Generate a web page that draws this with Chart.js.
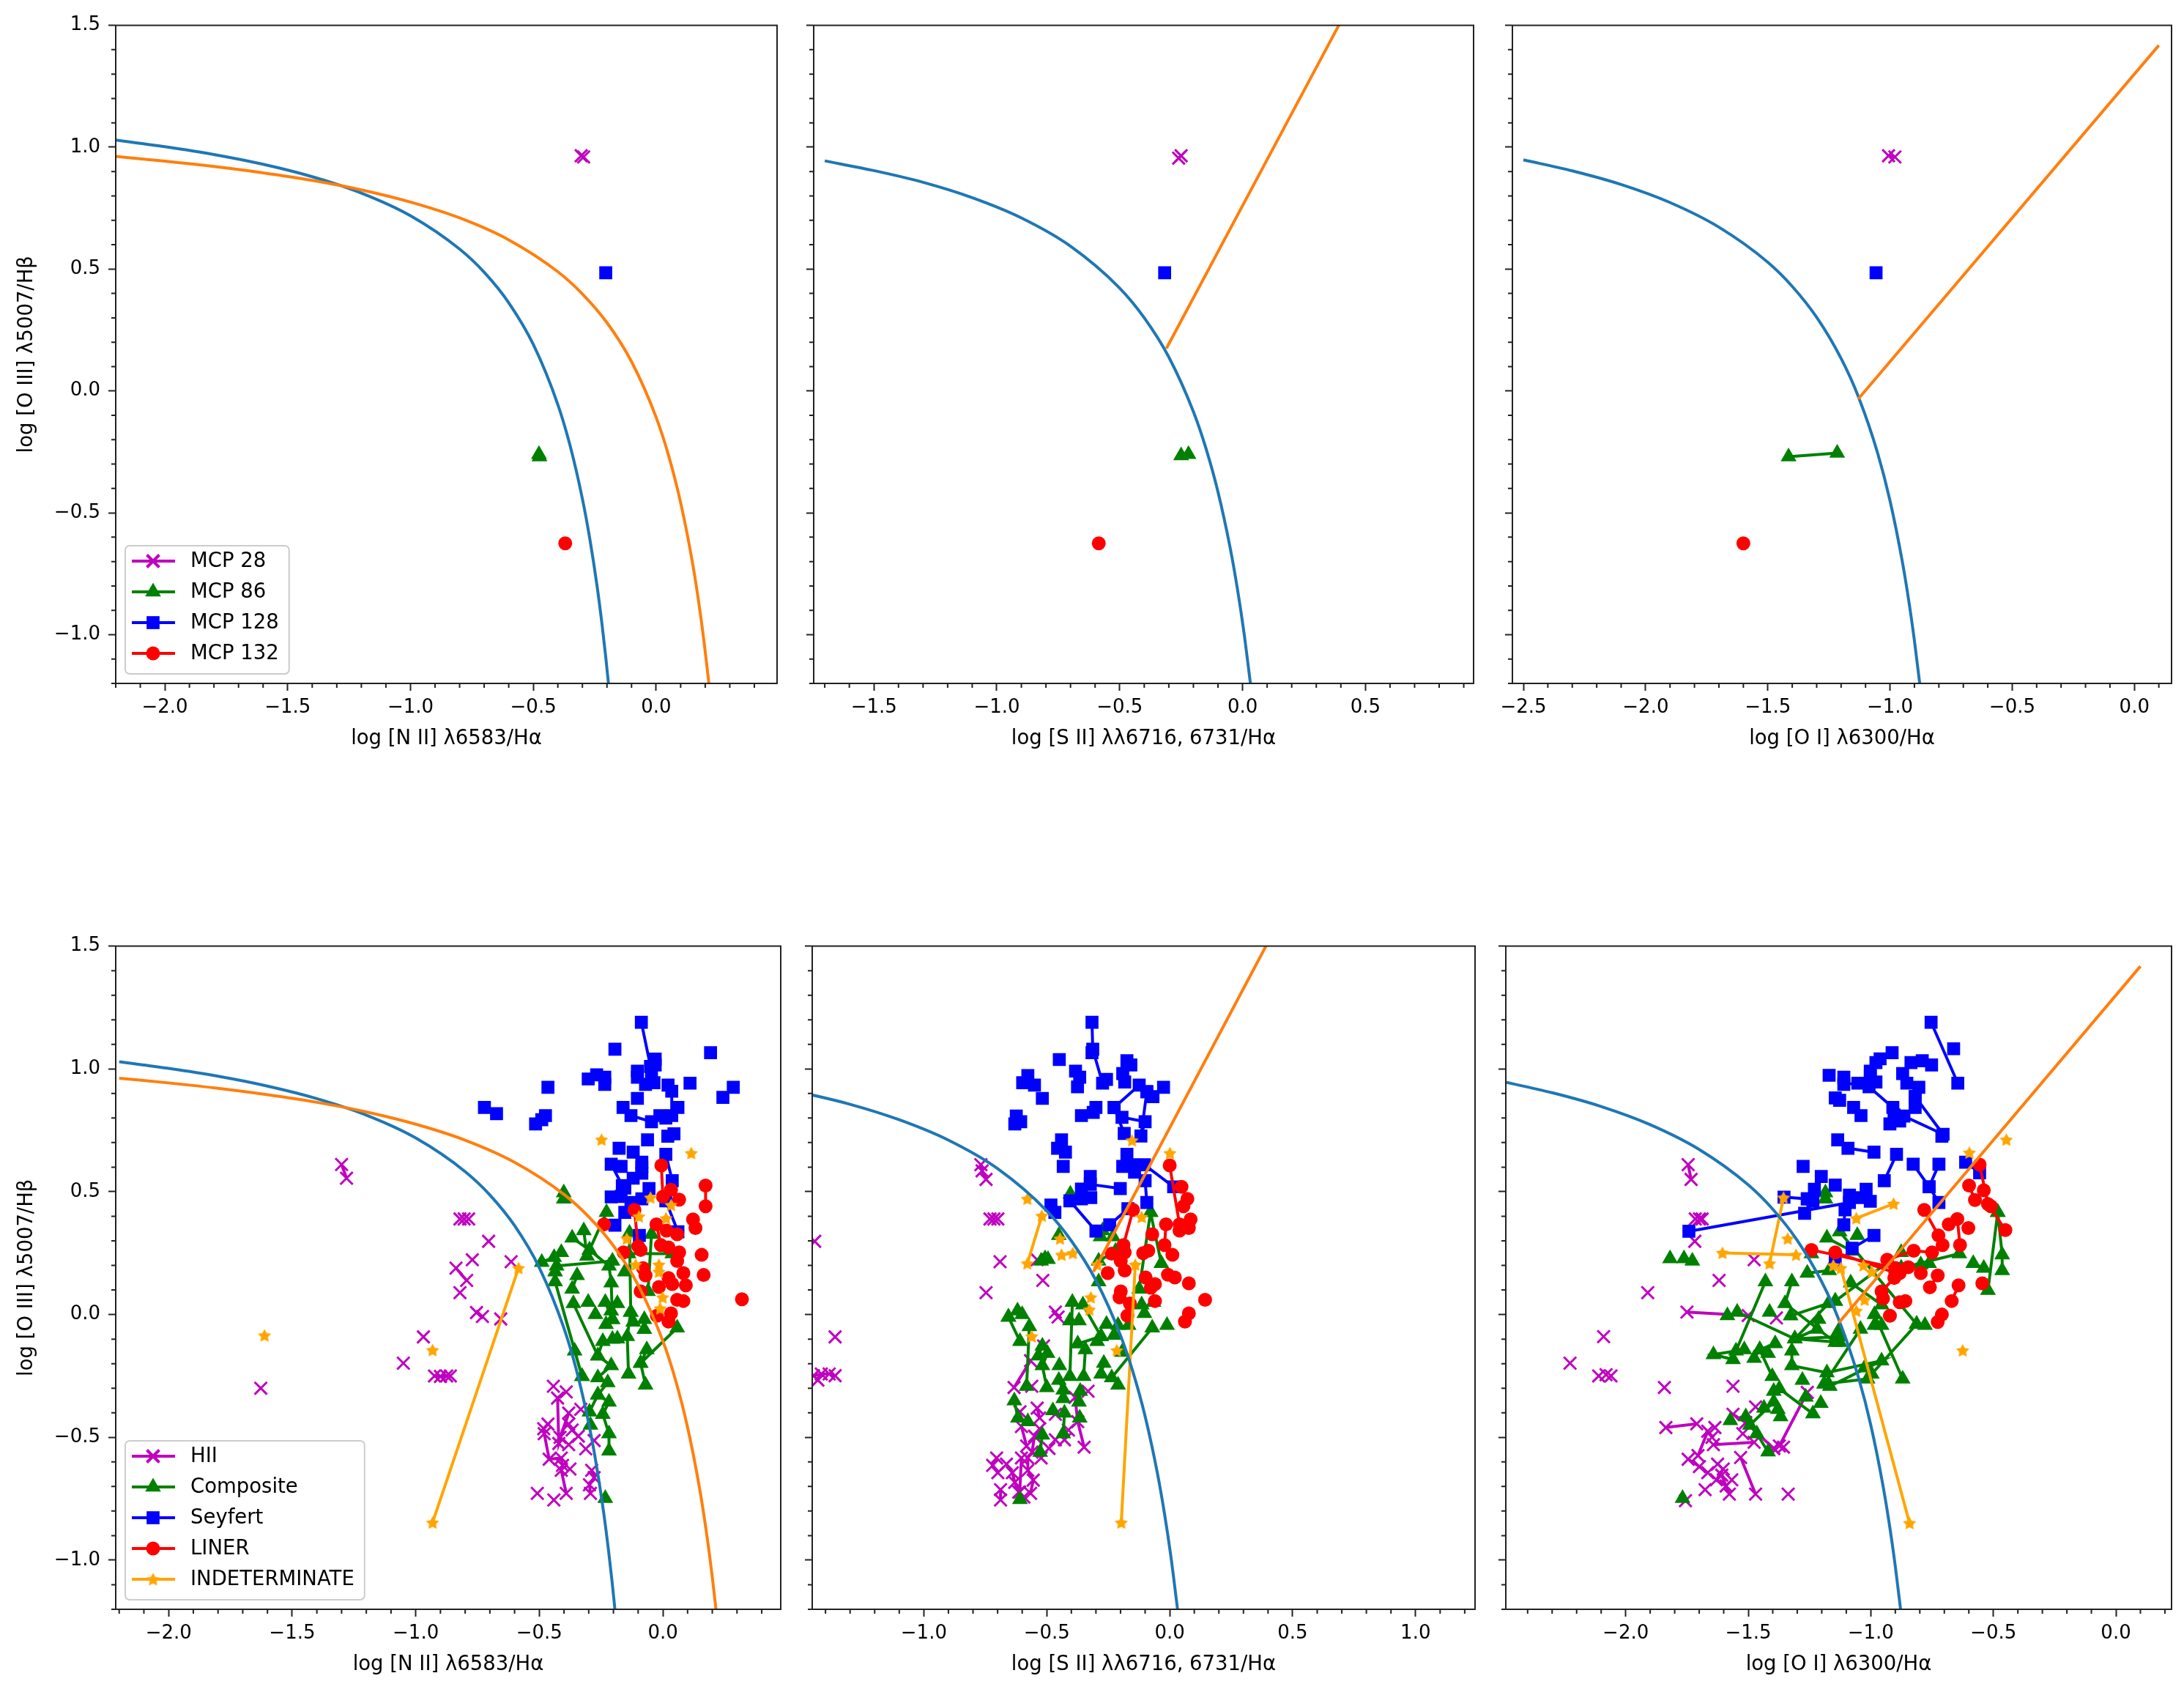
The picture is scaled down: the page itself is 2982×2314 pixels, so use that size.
<!DOCTYPE html>
<html>
<head>
<meta charset="utf-8">
<script src="https://cdn.jsdelivr.net/npm/chart.js"></script>
<style>
  html, body { margin: 0; padding: 0; background: #fff; }
  #page { position: relative; width: 2982px; height: 2314px; overflow: hidden; }
  canvas { position: absolute; }
</style>
</head>
<body>
<div id="page"></div>
<script>
// Each list below is a set of runs: x,y,x,y... A run of one pair is a lone marker.
const xTicks = [-2.5, -2.0, -1.5, -1.0, -0.5, 0.0, 0.5, 1.0];
const yTicks = [-1.0, -0.5, 0.0, 0.5, 1.0, 1.5];

const yLabel = 'log [O III] λ5007/Hβ';
const xLabelNii = 'log [N II] λ6583/Hα';
const xLabelSii = 'log [S II] λλ6716, 6731/Hα';
const xLabelOi = 'log [O I] λ6300/Hα';

// demarcation curves
const curveNiiBlue = [-2.2,1.029,-2.0,1.002,-1.8,0.97,-1.6,0.93,-1.4,0.879,-1.2,0.812,-1.0,0.719,-0.8,0.582,-0.7,0.487,-0.6,0.362,-0.5,0.191,-0.4,-0.056,-0.35,-0.225,-0.3,-0.443,-0.27,-0.606,-0.24,-0.803,-0.22,-0.959,-0.205,-1.092,-0.194,-1.2];
const curveNiiOrange = [-2.2,0.962,-2.0,0.943,-1.8,0.921,-1.6,0.895,-1.4,0.864,-1.2,0.825,-1.0,0.775,-0.8,0.71,-0.6,0.62,-0.4,0.489,-0.3,0.398,-0.2,0.28,-0.1,0.12,0,-0.108,0.05,-0.262,0.1,-0.459,0.15,-0.716,0.18,-0.913,0.2,-1.069,0.215,-1.2];
const curveSiiBlue = [-1.7,0.944,-1.5,0.904,-1.3,0.856,-1.1,0.793,-0.9,0.71,-0.7,0.594,-0.5,0.422,-0.4,0.3,-0.3,0.139,-0.2,-0.085,-0.15,-0.232,-0.1,-0.414,-0.05,-0.646,-0.02,-0.818,0.005,-0.986,0.032,-1.2];
const curveSiiOrange = [-0.31,0.174,0.3915,1.5];
const curveOiBlue = [-2.5,0.948,-2.3,0.903,-2.1,0.847,-1.9,0.773,-1.7,0.672,-1.5,0.528,-1.4,0.429,-1.3,0.302,-1.2,0.133,-1.13,-0.022,-1.05,-0.257,-1.0,-0.45,-0.95,-0.698,-0.92,-0.882,-0.9,-1.025,-0.88,-1.187,-0.8785,-1.2];
const curveOiOrange = [-1.13,-0.033,0.1,1.418];

// top row, four objects
const mcp28Nii = [[-0.305,0.965,-0.295,0.96]];
const mcp86Nii = [[-0.477,-0.26,-0.475,-0.27]];
const mcp128Nii = [[-0.205,0.485]];
const mcp132Nii = [[-0.37,-0.625]];
const mcp28Sii = [[-0.26,0.955,-0.25,0.965]];
const mcp86Sii = [[-0.25,-0.265,-0.22,-0.26]];
const mcp128Sii = [[-0.317,0.485]];
const mcp132Sii = [[-0.585,-0.625]];
const mcp28Oi = [[-1.006,0.965,-0.98,0.96]];
const mcp86Oi = [[-1.415,-0.27,-1.216,-0.255]];
const mcp128Oi = [[-1.057,0.485]];
const mcp132Oi = [[-1.6,-0.625]];

// bottom row, [N II]
const hiiNii = [[-1.3,0.611,-1.28,0.555],[-0.821,0.389],[-0.804,0.389],[-0.786,0.389],[-0.705,0.298],[-0.771,0.223],[-0.614,0.215],[-0.837,0.189,-0.794,0.139],[-0.821,0.089],[-0.754,0.008,-0.73,-0.008],[-0.656,-0.018],[-0.969,-0.091],[-1.05,-0.198],[-1.627,-0.3],[-0.924,-0.25,-0.9,-0.252,-0.875,-0.25,-0.86,-0.25],[-0.443,-0.292],[-0.391,-0.315,-0.426,-0.34,-0.421,-0.525,-0.381,-0.401,-0.416,-0.5],[-0.332,-0.386],[-0.381,-0.446,-0.367,-0.47,-0.342,-0.495],[-0.465,-0.446,-0.482,-0.465,-0.48,-0.485,-0.46,-0.589,-0.411,-0.584,-0.406,-0.614,-0.411,-0.634,-0.391,-0.728],[-0.381,-0.53],[-0.278,-0.513],[-0.312,-0.547],[-0.376,-0.629],[-0.288,-0.634,-0.278,-0.664,-0.297,-0.693,-0.293,-0.728],[-0.508,-0.728],[-0.441,-0.755]];
const compNii = [[-0.401,0.496,-0.401,0.471],[-0.228,0.416,-0.297,0.263,-0.218,0.198,-0.209,0.129,-0.204,-0.02],[-0.32,0.342,-0.307,0.238],[-0.367,0.312,-0.297,0.263],[-0.411,0.253,-0.44,0.233,-0.49,0.213],[-0.43,0.198,-0.204,0.218],[-0.139,0.248,0.038,0.248],[-0.046,0.327,-0.06,0.094],[-0.135,0.332,-0.13,0.01],[-0.154,0.174],[-0.436,0.174,-0.436,0.134,-0.327,-0.252],[-0.347,0.159,-0.367,0.104],[-0.362,0.045,-0.263,-0.168],[-0.302,0.05],[-0.233,0.05,-0.204,-0.02],[-0.184,0.045,-0.209,0.015],[-0.273,0],[-0.23,-0.04],[-0.12,-0.03],[-0.13,0.01,-0.144,-0.089,-0.139,-0.242],[-0.075,-0.02,-0.075,-0.06],[0.058,-0.054,-0.09,-0.198,-0.07,-0.287],[-0.204,-0.1,-0.184,-0.099,-0.243,-0.109,-0.263,-0.168,-0.209,-0.208,-0.263,-0.257,-0.223,-0.277,-0.263,-0.327,-0.297,-0.396],[-0.065,-0.143,-0.09,-0.198],[-0.357,-0.148,-0.327,-0.252],[-0.263,-0.327,-0.218,-0.356,-0.243,-0.406,-0.218,-0.485,-0.218,-0.555],[-0.293,-0.45],[-0.233,-0.748]];
const seyNii = [[-0.087,1.19,-0.05,1.01],[-0.194,1.08],[0.193,1.066],[-0.031,1.04,-0.031,1.016],[-0.103,0.991],[-0.046,0.98],[-0.103,0.966],[-0.268,0.976],[-0.302,0.959],[-0.235,0.966,-0.235,0.937],[-0.036,0.944],[-0.07,0.937],[0.021,0.934],[0.11,0.942],[0.036,0.909,0.036,0.81,0.012,0.8],[-0.103,0.88],[0.285,0.925,0.243,0.884],[-0.465,0.925],[-0.161,0.843],[0.061,0.843],[-0.129,0.81,-0.046,0.785],[-0.012,0.81],[-0.475,0.81],[-0.49,0.793],[-0.515,0.776],[-0.722,0.843,-0.673,0.818],[-0.062,0.711],[0.045,0.736],[0.02,0.726],[-0.177,0.677],[-0.12,0.661],[0.012,0.652,0.038,0.545],[-0.085,0.62],[-0.209,0.612,-0.164,0.525],[-0.169,0.603],[-0.085,0.6],[-0.12,0.555],[-0.085,0.575],[-0.154,0.515],[-0.056,0.513],[-0.209,0.479],[-0.169,0.481],[0.012,0.463,0.061,0.337],[-0.085,0.471],[-0.129,0.456],[-0.154,0.416],[-0.194,0.364],[-0.095,0.322]];
const linerNii = [[-0.006,0.607,0.0,0.48],[0.033,0.508],[0.173,0.525,0.173,0.441],[0.066,0.468],[-0.115,0.426,-0.1,0.278],[-0.238,0.367],[0.122,0.387],[0.132,0.352],[-0.026,0.367,-0.008,0.283],[0.015,0.342],[0.058,0.327],[0.023,0.273],[0.066,0.253],[0.058,0.218],[0.157,0.243],[-0.159,0.253],[-0.09,0.263],[-0.08,0.189],[-0.07,0.159],[0.083,0.169],[0.165,0.161],[0.023,0.149],[0.038,0.124],[-0.016,0.112],[0.093,0.119],[-0.09,0.094],[0.058,0.06],[0.083,0.055],[0.32,0.062],[-0.024,-0.005],[0.033,0.005],[0.023,-0.029]];
const indetNii = [[-0.932,-0.847,-0.584,0.189],[-0.932,-0.145],[-1.612,-0.085],[-0.248,0.712],[0.115,0.657],[-0.05,0.476],[-0.097,0.399],[-0.146,0.309],[0.013,0.392],[0.033,0.446],[-0.11,0.203],[-0.016,0.203],[-0.016,0.174],[-0.001,0.07],[-0.011,0.025]];

// bottom row, [S II]
const hiiSii = [[-0.768,0.61,-0.763,0.585,-0.747,0.55],[-0.731,0.389],[-0.715,0.389],[-0.699,0.389],[-1.444,0.298],[-0.69,0.215],[-0.539,0.223],[-0.516,0.139],[-0.747,0.089],[-0.465,0.01],[-0.454,-0.01],[-1.361,-0.091],[-1.449,-0.249,-1.417,-0.242,-1.385,-0.242,-1.361,-0.249],[-1.431,-0.267],[-0.633,-0.297,-0.566,-0.188],[-0.561,-0.292],[-0.332,-0.312],[-0.513,-0.128],[-0.539,-0.381,-0.529,-0.421],[-0.609,-0.396],[-0.385,-0.337,-0.374,-0.436,-0.348,-0.54],[-0.465,-0.406],[-0.412,-0.47],[-0.603,-0.456,-0.582,-0.535],[-0.529,-0.465,-0.55,-0.495,-0.56,-0.56],[-0.465,-0.51],[-0.428,-0.51],[-0.491,-0.545],[-0.523,-0.584],[-0.704,-0.584,-0.72,-0.614,-0.699,-0.644],[-0.664,-0.609,-0.64,-0.644,-0.63,-0.683,-0.614,-0.723],[-0.603,-0.584,-0.61,-0.723],[-0.577,-0.584,-0.577,-0.634,-0.555,-0.674,-0.566,-0.728],[-0.688,-0.713,-0.688,-0.755],[-0.593,-0.743]];
const compSii = [[-0.404,0.491],[-0.396,0.471],[-0.273,0.342,-0.281,0.317],[-0.231,0.317],[-0.451,0.322],[-0.507,0.228],[-0.523,0.218],[-0.495,0.225],[-0.289,0.218,-0.22,0.258],[-0.078,0.416,-0.124,0.104],[-0.078,0.416,-0.034,0.208],[-0.289,0.134],[-0.114,0.04],[-0.066,0.05],[-0.103,0.005],[-0.396,0.05,-0.406,-0.252],[-0.353,0.04,-0.279,-0.089],[-0.406,-0.025],[-0.369,-0.025],[-0.619,0.015],[-0.656,-0.01],[-0.6,0],[-0.571,-0.049,-0.582,-0.292],[-0.257,-0.039],[-0.21,-0.044],[-0.167,-0.044],[-0.071,-0.054,-0.236,-0.257],[-0.011,-0.044],[-0.609,-0.109,-0.656,-0.01],[-0.279,-0.089,-0.374,-0.119,-0.343,-0.143,-0.35,-0.252],[-0.295,-0.109],[-0.226,-0.084],[-0.518,-0.128,-0.534,-0.168,-0.497,-0.158,-0.518,-0.208,-0.5,-0.297],[-0.449,-0.208],[-0.194,-0.153],[-0.268,-0.198,-0.279,-0.242],[-0.21,-0.287],[-0.451,-0.267,-0.433,-0.307,-0.433,-0.342],[-0.364,-0.312,-0.369,-0.356],[-0.632,-0.351,-0.617,-0.421,-0.577,-0.436],[-0.475,-0.391],[-0.428,-0.401,-0.433,-0.485],[-0.366,-0.421],[-0.518,-0.49,-0.527,-0.56],[-0.609,-0.753]];
const seySii = [[-0.316,1.19,-0.313,1.08,-0.273,0.942],[-0.316,1.066],[-0.449,1.038],[-0.383,0.991,-0.366,0.966],[-0.375,0.927],[-0.577,0.973],[-0.598,0.944],[-0.55,0.934],[-0.518,0.88],[-0.257,0.957],[-0.174,1.033,-0.158,1.016],[-0.191,0.981],[-0.183,0.947],[-0.124,0.934,-0.226,0.843],[-0.093,0.907],[-0.068,0.887],[-0.025,0.925],[-0.194,0.803,-0.1,0.785,-0.117,0.727,-0.093,0.907],[-0.185,0.737,-0.226,0.843],[-0.3,0.843],[-0.311,0.823],[-0.359,0.81],[-0.624,0.808],[-0.606,0.785],[-0.63,0.776],[-0.44,0.711],[-0.456,0.677],[-0.424,0.661],[-0.433,0.603],[-0.174,0.652],[-0.191,0.603],[-0.143,0.58],[-0.151,0.61],[-0.103,0.61,0.016,0.52],[-0.1,0.545,-0.093,0.456],[-0.201,0.513,-0.323,0.53],[-0.323,0.562],[-0.359,0.511],[-0.321,0.476],[-0.359,0.471],[-0.406,0.463,-0.3,0.34,-0.244,0.365,-0.17,0.431],[-0.483,0.446],[-0.467,0.416]];
const linerSii = [[-0.0,0.607,0.04,0.367],[0.048,0.52],[0.072,0.471],[0.056,0.441],[0.085,0.387],[0.078,0.352],[0.04,0.342],[-0.015,0.367,-0.021,0.283],[-0.071,0.327],[0.011,0.243],[-0.087,0.26],[-0.108,0.25],[-0.149,0.426,-0.188,0.283,-0.183,0.253],[-0.236,0.248],[-0.199,0.218],[-0.183,0.179],[-0.252,0.169],[-0.098,0.151,-0.06,0.124],[-0.007,0.162],[0.021,0.151],[0.078,0.127],[-0.077,0.109],[0.144,0.06],[-0.199,0.094],[-0.204,0.07],[-0.162,0.045],[-0.06,0.055],[-0.172,-0.005],[0.078,0.005],[0.062,-0.029]];
const indetSii = [[-0.579,0.471],[-0.52,0.402,-0.579,0.208],[-0.153,0.709],[0.001,0.657],[-0.114,0.397],[-0.446,0.309],[-0.44,0.243,-0.394,0.25],[-0.295,0.203],[-0.14,0.203,-0.197,-0.847],[-0.321,0.07],[-0.327,0.02],[-0.561,-0.089],[-0.215,-0.146]];

// bottom row, [O I]
const hiiOi = [[-1.745,0.61,-1.733,0.55],[-1.716,0.389],[-1.699,0.389],[-1.688,0.389],[-1.718,0.298],[-1.476,0.223],[-1.619,0.139],[-1.91,0.089],[-1.75,0.01,-1.5,-0.004],[-1.385,-0.014],[-2.09,-0.09],[-2.227,-0.198],[-2.11,-0.25],[-2.08,-0.245],[-2.06,-0.25],[-1.842,-0.297],[-1.562,-0.292],[-1.259,-0.317,-1.373,-0.535],[-1.396,-0.545],[-1.356,-0.54],[-1.47,-0.376],[-1.562,-0.406,-1.51,-0.44,-1.396,-0.545],[-1.71,-0.445,-1.836,-0.46],[-1.636,-0.46],[-1.665,-0.475,-1.705,-0.574],[-1.648,-0.5],[-1.642,-0.53,-1.476,-0.52],[-1.522,-0.485],[-1.745,-0.589,-1.699,-0.619,-1.665,-0.644],[-1.625,-0.609],[-1.602,-0.629,-1.63,-0.673,-1.59,-0.698],[-1.608,-0.654,-1.577,-0.731],[-1.567,-0.673],[-1.676,-0.713],[-1.531,-0.582,-1.47,-0.731],[-1.337,-0.731],[-1.756,-0.758]];
const compOi = [[-1.185,0.496,-1.185,0.471],[-1.819,0.228],[-1.762,0.228],[-1.728,0.218],[-1.242,0.248],[-1.127,0.337,-0.813,-0.039],[-1.179,0.312,-1.076,0.258],[-1.055,0.322],[-0.876,0.253,-1.145,0.055],[-0.796,0.203],[-0.762,0.208],[-0.639,0.248,-0.876,0.19],[-0.582,0.208,-0.539,0.189],[-0.482,0.416,-0.522,0.099],[-0.482,0.416,-0.464,0.243,-0.464,0.179],[-1.259,0.169,-1.17,0.179],[-1.082,0.129,-0.956,0.04],[-1.43,0.134,-1.55,-0.148],[-1.322,0.134,-1.35,0.045,-1.145,-0.113],[-1.413,0.01],[-1.327,-0.005,-1.145,0.055],[-0.985,0,-0.87,-0.262],[-1.585,-0.004],[-1.545,0.01,-1.31,-0.099,-1.127,-0.113],[-1.173,0.045,-1.31,-0.099],[-1.213,-0.019,-1.219,-0.059,-1.31,-0.099,-1.127,-0.09],[-1.133,-0.069],[-1.042,-0.059,-1.19,-0.282],[-0.985,-0.044],[-0.956,-0.044],[-0.813,-0.039,-0.996,-0.242],[-0.779,-0.044],[-1.39,-0.118,-1.453,-0.143,-1.476,-0.178],[-1.516,-0.143,-1.642,-0.163,-1.562,-0.183],[-1.419,-0.158],[-1.322,-0.148,-1.322,-0.208,-1.179,-0.237,-0.956,-0.188,-1.167,-0.292],[-1.402,-0.252,-1.453,-0.143],[-1.025,-0.217],[-1.013,-0.262,-1.19,-0.282],[-1.279,-0.267],[-1.373,-0.302,-1.236,-0.404],[-1.396,-0.312],[-1.265,-0.336],[-1.204,-0.361],[-1.396,-0.356,-1.493,-0.45],[-1.436,-0.381],[-1.379,-0.386],[-1.368,-0.416],[-1.573,-0.431],[-1.51,-0.416,-1.465,-0.485,-1.419,-0.559],[-1.768,-0.748]];
const seyOi = [[-0.754,1.19,-0.645,0.942],[-0.662,1.082],[-0.913,1.066,-0.962,1.041,-0.979,1.026,-1.002,0.991,-1.002,0.971,-0.979,0.947,-1.053,0.942,-1.11,0.937,-1.11,0.966],[-1.17,0.974],[-1.007,0.927,-0.91,0.843,-0.905,0.813,-0.865,0.808,-0.705,0.734,-0.819,0.887,-0.819,0.843],[-1.145,0.882,-1.127,0.872],[-1.07,0.843,-1.04,0.81],[-0.752,1.016,-0.79,1.033,-0.836,1.026,-0.87,0.981,-0.853,0.942,-0.804,0.925,-0.819,0.887],[-0.922,0.776],[-0.882,0.788],[-0.71,0.726],[-1.135,0.711,-1.093,0.677,-0.987,0.661],[-0.895,0.652,-0.945,0.545],[-1.276,0.603],[-0.827,0.612,-0.762,0.52,-0.722,0.612],[-0.762,0.52,-0.722,0.456],[-0.613,0.62,-0.556,0.577],[-1.202,0.562,-1.23,0.51,-1.259,0.471,-1.236,0.461,-1.27,0.412],[-1.145,0.527],[-1.354,0.478,-1.259,0.471],[-1.019,0.51],[-1.087,0.486,-1.053,0.476,-1.002,0.461],[-1.105,0.426,-1.11,0.365],[-1.742,0.339,-1.087,0.456],[-0.987,0.322,-1.076,0.27],[-1.145,0.218]];
const linerOi = [[-0.556,0.61,-0.522,0.45,-0.451,0.344],[-0.599,0.525,-0.575,0.466,-0.539,0.506,-0.51,0.441],[-0.782,0.426,-0.724,0.322,-0.707,0.283,-0.75,0.253,-0.825,0.26,-0.933,0.223],[-0.682,0.367],[-0.647,0.389,-0.636,0.283],[-0.602,0.352],[-1.242,0.263,-0.9,0.19],[-1.145,0.253,-0.9,0.17],[-0.847,0.193],[-0.882,0.169],[-0.796,0.169],[-0.727,0.159,-0.759,0.111],[-0.642,0.119,-0.67,0.055],[-0.545,0.127],[-0.882,0.05,-0.859,0.055],[-0.956,0.094,-0.904,0.149],[-0.95,0.065],[-0.922,-0.005],[-0.71,0],[-0.727,-0.03]];
const indetOi = [[-1.356,0.476,-1.413,0.208],[-0.907,0.451,-1.059,0.392],[-0.598,0.659],[-0.447,0.712],[-1.339,0.309],[-1.605,0.251,-1.305,0.243],[-1.153,0.2],[-1.122,0.189,-0.842,-0.849],[-1.03,0.2],[-0.996,0.174],[-1.025,0.06],[-1.059,0.015],[-0.625,-0.146]];

// flatten runs into chart points, null between runs breaks the line
function toPoints(runs) {
  const pts = [];
  runs.forEach(run => {
    for (let i = 0; i < run.length; i += 2) pts.push({ x: run[i], y: run[i + 1] });
    pts.push({ x: null, y: null });
  });
  return pts;
}

// matplotlib style filled star, not the asterisk chart.js calls star
function makeStar(size) {
  const c = document.createElement('canvas');
  c.width = size; c.height = size;
  const g = c.getContext('2d');
  g.fillStyle = '#ffa500';
  g.beginPath();
  for (let i = 0; i < 10; i++) {
    const r = i % 2 ? size * 0.26 : size * 0.5;
    const a = -Math.PI / 2 + i * Math.PI / 5;
    g.lineTo(size / 2 + r * Math.cos(a), size / 2 + r * Math.sin(a) + size * 0.04);
  }
  g.closePath();
  g.fill();
  return c;
}
const starMark = makeStar(19);

const styleHii = { color: '#bf00bf', mark: 'crossRot', radius: 12, border: 3 };
const styleComp = { color: '#008000', mark: 'triangle', radius: 12.5, border: 0 };
const styleSey = { color: '#0000ff', mark: 'rect', radius: 12.5, border: 0 };
const styleLiner = { color: '#ff0000', mark: 'circle', radius: 9.5, border: 0 };
const styleIndet = { color: '#ffa500', mark: starMark, radius: 9, border: 0 };

function markSet(label, style, runs) {
  return {
    label: label, data: toPoints(runs), showLine: true, spanGaps: false,
    borderColor: style.color, backgroundColor: style.color, borderWidth: 4,
    pointStyle: style.mark, pointRadius: style.radius,
    pointBackgroundColor: style.color, pointBorderColor: style.color, pointBorderWidth: style.border
  };
}
function curveSet(color, values) {
  return {
    label: '', data: toPoints([values]), showLine: true, borderColor: color,
    borderWidth: 4, pointRadius: 0, cubicInterpolationMode: 'monotone'
  };
}

const fontFamily = '"DejaVu Sans"';
const tickFontSize = 26;
const labelFontSize = 27.5;
const tickMinus = v => v.toFixed(1).replace('-', '\u2212');

// top and right spines, minor ticks, legend
const panelExtras = {
  id: 'panelExtras',
  afterDraw(chart, args, opts) {
    const { ctx, chartArea: a, scales } = chart;
    ctx.save();
    ctx.strokeStyle = '#222';
    ctx.lineWidth = 2;
    ctx.strokeRect(a.left, a.top, a.right - a.left, a.bottom - a.top);
    ctx.lineWidth = 2;
    ctx.beginPath();
    for (let t = -30; t <= 20; t++) {
      const v = t / 10;
      if (t % 5 === 0) continue;
      if (v >= scales.x.min && v <= scales.x.max) {
        const px = scales.x.getPixelForValue(v);
        ctx.moveTo(px, a.bottom); ctx.lineTo(px, a.bottom + 6);
      }
      if (v >= scales.y.min && v <= scales.y.max) {
        const py = scales.y.getPixelForValue(v);
        ctx.moveTo(a.left, py); ctx.lineTo(a.left - 6, py);
      }
    }
    ctx.stroke();
    if (opts.entries) drawLegend(ctx, a, opts.entries);
    ctx.restore();
  }
};

function drawLegend(ctx, a, entries) {
  ctx.font = labelFontSize + 'px ' + fontFamily;
  const textW = Math.max(...entries.map(e => ctx.measureText(e.label).width));
  const left = a.left + 13;
  const rowH = 42;
  const h = 21 + rowH * (entries.length - 1) + 28;
  const top = a.bottom - 13 - h;
  const w = 89 + textW + 14;
  ctx.beginPath();
  ctx.roundRect(left, top, w, h, 6);
  ctx.fillStyle = 'rgba(255,255,255,0.8)';
  ctx.fill();
  ctx.strokeStyle = '#cccccc';
  ctx.lineWidth = 2;
  ctx.stroke();
  entries.forEach((e, i) => {
    const y = top + 21 + i * rowH;
    ctx.strokeStyle = e.style.color;
    ctx.lineWidth = 4;
    ctx.beginPath();
    ctx.moveTo(left + 9, y);
    ctx.lineTo(left + 68, y);
    ctx.stroke();
    ctx.fillStyle = e.style.color;
    Chart.helpers.drawPoint(ctx, { pointStyle: e.style.mark, radius: e.style.radius, rotation: 0, borderWidth: e.style.border }, left + 38, y);
    ctx.fillStyle = '#000';
    ctx.textBaseline = 'middle';
    ctx.textAlign = 'left';
    ctx.fillText(e.label, left + 89, y + 1);
  });
}

const topEntries = [
  { label: 'MCP 28', style: styleHii }, { label: 'MCP 86', style: styleComp },
  { label: 'MCP 128', style: styleSey }, { label: 'MCP 132', style: styleLiner }
];
const bottomEntries = [
  { label: 'HII', style: styleHii }, { label: 'Composite', style: styleComp },
  { label: 'Seyfert', style: styleSey }, { label: 'LINER', style: styleLiner },
  { label: 'INDETERMINATE', style: styleIndet }
];

const blueCurve = '#1f77b4';
const orangeCurve = '#ff7f0e';

const panels = [
  { left: 158, right: 1061, top: 32, bottom: 933, xMin: -2.2, xMax: 0.4925, xLabel: xLabelNii, showY: true, legend: topEntries,
    curves: [[blueCurve, curveNiiBlue], [orangeCurve, curveNiiOrange]],
    sets: [['MCP 28', styleHii, mcp28Nii], ['MCP 86', styleComp, mcp86Nii], ['MCP 128', styleSey, mcp128Nii], ['MCP 132', styleLiner, mcp132Nii]] },
  { left: 1111, right: 2012, top: 32, bottom: 933, xMin: -1.745, xMax: 0.94, xLabel: xLabelSii,
    curves: [[blueCurve, curveSiiBlue], [orangeCurve, curveSiiOrange]],
    sets: [['MCP 28', styleHii, mcp28Sii], ['MCP 86', styleComp, mcp86Sii], ['MCP 128', styleSey, mcp128Sii], ['MCP 132', styleLiner, mcp132Sii]] },
  { left: 2065, right: 2965, top: 32, bottom: 933, xMin: -2.545, xMax: 0.152, xLabel: xLabelOi,
    curves: [[blueCurve, curveOiBlue], [orangeCurve, curveOiOrange]],
    sets: [['MCP 28', styleHii, mcp28Oi], ['MCP 86', styleComp, mcp86Oi], ['MCP 128', styleSey, mcp128Oi], ['MCP 132', styleLiner, mcp132Oi]] },
  { left: 158, right: 1066, top: 1289, bottom: 2197, xMin: -2.214, xMax: 0.477, xLabel: xLabelNii, showY: true, legend: bottomEntries,
    curves: [[blueCurve, curveNiiBlue], [orangeCurve, curveNiiOrange]],
    sets: [['HII', styleHii, hiiNii], ['Composite', styleComp, compNii], ['Seyfert', styleSey, seyNii], ['LINER', styleLiner, linerNii], ['INDETERMINATE', styleIndet, indetNii]] },
  { left: 1109, right: 2014, top: 1289, bottom: 2197, xMin: -1.454, xMax: 1.242, xLabel: xLabelSii,
    curves: [[blueCurve, curveSiiBlue], [orangeCurve, curveSiiOrange]],
    sets: [['HII', styleHii, hiiSii], ['Composite', styleComp, compSii], ['Seyfert', styleSey, seySii], ['LINER', styleLiner, linerSii], ['INDETERMINATE', styleIndet, indetSii]] },
  { left: 2056, right: 2965, top: 1289, bottom: 2197, xMin: -2.489, xMax: 0.227, xLabel: xLabelOi,
    curves: [[blueCurve, curveOiBlue], [orangeCurve, curveOiOrange]],
    sets: [['HII', styleHii, hiiOi], ['Composite', styleComp, compOi], ['Seyfert', styleSey, seyOi], ['LINER', styleLiner, linerOi], ['INDETERMINATE', styleIndet, indetOi]] }
];

const page = document.getElementById('page');
const padTop = 24, padRight = 24, belowAxis = 92;

panels.forEach(p => {
  // wide enough on the left that the first tick label never pushes the chart area in
  const yWidth = p.showY ? 138 : 44;
  const canvas = document.createElement('canvas');
  const cssW = yWidth + (p.right - p.left) + padRight;
  const cssH = padTop + (p.bottom - p.top) + belowAxis;
  canvas.style.left = (p.left - yWidth) + 'px';
  canvas.style.top = (p.top - padTop) + 'px';
  canvas.style.width = cssW + 'px';
  canvas.style.height = cssH + 'px';
  canvas.width = cssW; canvas.height = cssH;
  page.appendChild(canvas);

  // first dataset is drawn last, so the curves go on top
  const datasets = p.curves.map(c => curveSet(c[0], c[1])).reverse()
    .concat(p.sets.map(s => markSet(s[0], s[1], s[2])).reverse());

  new Chart(canvas, {
    type: 'scatter',
    data: { datasets: datasets },
    options: {
      responsive: false,
      devicePixelRatio: 1,
      animation: false,
      events: [],
      layout: { padding: { top: padTop, right: padRight, left: 0, bottom: 0 } },
      plugins: { legend: { display: false }, tooltip: { enabled: false }, panelExtras: { entries: p.legend } },
      scales: {
        x: {
          type: 'linear', min: p.xMin, max: p.xMax,
          afterBuildTicks: s => { s.ticks = xTicks.filter(v => v >= p.xMin && v <= p.xMax).map(v => ({ value: v })); },
          afterFit: s => { s.height = belowAxis; },
          grid: { drawOnChartArea: false, drawTicks: true, tickLength: 10, tickColor: '#222', tickWidth: 2 },
          border: { color: '#222', width: 2 },
          ticks: { color: '#000', font: { family: fontFamily, size: tickFontSize }, padding: 8, maxRotation: 0, minRotation: 0, autoSkip: false, callback: v => tickMinus(v) },
          title: { display: true, text: p.xLabel, color: '#000', font: { family: fontFamily, size: labelFontSize }, padding: 0 }
        },
        y: {
          type: 'linear', min: -1.2, max: 1.5,
          afterBuildTicks: s => { s.ticks = yTicks.map(v => ({ value: v })); },
          afterFit: s => { s.width = yWidth; },
          grid: { drawOnChartArea: false, drawTicks: true, tickLength: 10, tickColor: '#222', tickWidth: 2 },
          border: { color: '#222', width: 2 },
          ticks: { color: '#000', font: { family: fontFamily, size: tickFontSize }, padding: 11, autoSkip: false, callback: v => p.showY ? tickMinus(v) : '' },
          title: { display: !!p.showY, text: yLabel, color: '#000', font: { family: fontFamily, size: labelFontSize }, padding: 0 }
        }
      }
    },
    plugins: [panelExtras]
  });
});
</script>
</body>
</html>
